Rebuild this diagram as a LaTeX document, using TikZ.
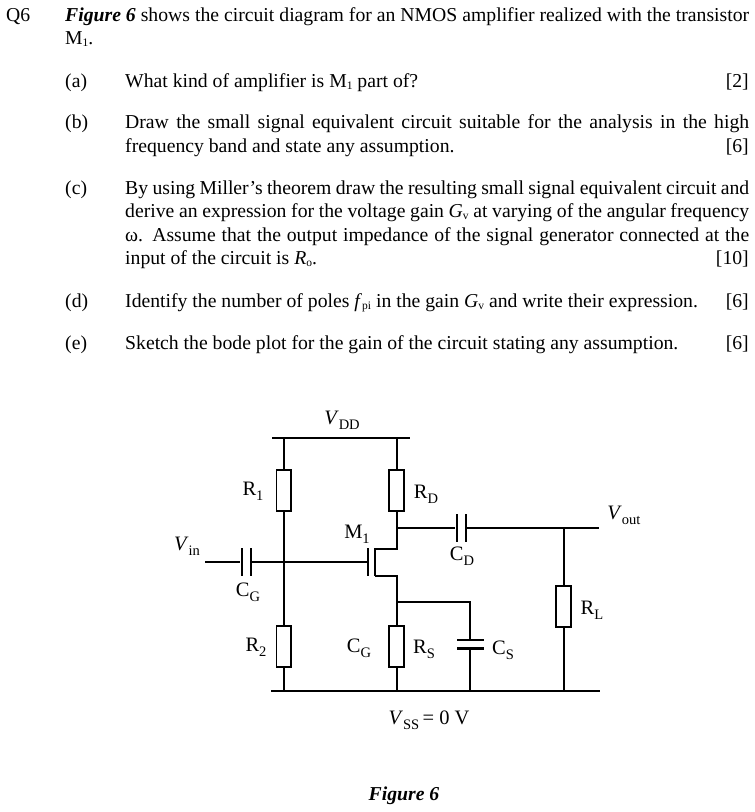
\documentclass[tikz,border=0pt]{standalone}
\usepackage{fontspec}
\setmainfont{Liberation Serif}
\usetikzlibrary{positioning}
\newcommand{\lowsub}[1]{\raisebox{-0.55ex}{\fontsize{14.5}{14.5}\selectfont #1}}
\newcommand{\tinysub}[1]{\raisebox{-0.25ex}{\fontsize{11.5}{11.5}\selectfont #1}}
\newcommand{\fullline}[1]{\makebox[624pt][s]{#1}}
\tikzset{
  textline/.style={anchor=base west,inner sep=0pt,font=\fontsize{19.7}{22}\selectfont},
  score/.style={anchor=base east,inner sep=0pt,font=\fontsize{19.7}{22}\selectfont},
  lab/.style={inner sep=0pt,font=\fontsize{20.5}{24}\selectfont},
  res/.style={draw,line width=1.8pt,fill=white,rectangle,minimum width=14.5pt,minimum height=41pt,inner sep=0pt},
  vplate/.style={fill=black,rectangle,minimum width=2.4pt,minimum height=28pt,inner sep=0pt},
  hplate/.style={fill=black,rectangle,minimum width=27pt,minimum height=2.4pt,inner sep=0pt},
  wire/.style={line width=2pt}
}
\begin{document}
\begin{tikzpicture}[x=1pt,y=-1pt]
\useasboundingbox (0,0) rectangle (755,812);

\node[textline] (q6) at (6,21) {Q6};
\node[textline] (t1) at (65,21) {\makebox[684pt][s]{\textbf{\textit{Figure 6}} shows the circuit diagram for an NMOS amplifier realized with the transistor}};
\node[textline] (t2) at (65,44) {M\tinysub{1}.};
\node[textline] (la) at (65,87) {(a)};
\node[textline] (ta) at (125,87) {What kind of amplifier is M\tinysub{1} part of?};
\node[score] (ma) at (749,87) {[2]};
\node[textline] (lb) at (65,128) {(b)};
\node[textline] (tb1) at (125,128) {\fullline{Draw the small signal equivalent circuit suitable for the analysis in the high}};
\node[textline] (tb2) at (125,152) {frequency band and state any assumption.};
\node[score] (mb) at (749,152) {[6]};
\node[textline] (lc) at (65,194) {(c)};
\node[textline] (tc1) at (125,194) {\fullline{By using Miller’s theorem draw the resulting small signal equivalent circuit and}};
\node[textline] (tc2) at (125,217) {\fullline{derive an expression for the voltage gain \textit{G}\tinysub{v} at varying of the angular frequency}};
\node[textline] (tc3) at (125,241) {\fullline{ω. Assume that the output impedance of the signal generator connected at the}};
\node[textline] (tc4) at (125,264) {input of the circuit is \textit{R}\tinysub{o}.};
\node[score] (mc) at (749,264) {[10]};
\node[textline] (ld) at (65,307) {(d)};
\node[textline] (td) at (125,307) {Identify the number of poles \textit{f}\tinysub{pi} in the gain \textit{G}\tinysub{v} and write their expression.};
\node[score] (md) at (749,307) {[6]};
\node[textline] (le) at (65,349) {(e)};
\node[textline] (te) at (125,349) {Sketch the bode plot for the gain of the circuit stating any assumption.};
\node[score] (me) at (749,349) {[6]};

\coordinate (topl) at (272,437.7);
\coordinate (topr) at (410,437.7);
\coordinate (botl) at (271,690.5);
\coordinate (botr) at (600,690.5);
\coordinate (top1) at (283.7,437.7);
\coordinate (top2) at (396.5,437.7);
\coordinate (bot1) at (283.7,690.5);
\coordinate (bot2) at (396.5,690.5);
\coordinate (bot3) at (470,690.5);
\coordinate (bot4) at (563.5,690.5);
\coordinate (in) at (205,561.7);
\coordinate (dnode) at (396.5,527.7);
\coordinate (onode) at (563.5,527.7);
\coordinate (out) at (599,527.7);
\coordinate (dch) at (375,549);
\coordinate (sch) at (375,575.7);
\coordinate (snode) at (396.5,601.7);
\coordinate (capt) at (470,640);
\coordinate (capb) at (470,648.3);

\node[res] (R1) at (283.7,490.5) {};
\node[res] (R2) at (283.7,646.5) {};
\node[res] (RD) at (396.5,490.5) {};
\node[res] (RS) at (396.5,646.5) {};
\node[res] (RL) at (563.5,606.5) {};
\node[vplate] (CGa) at (241.7,561.7) {};
\node[vplate] (CGb) at (250.7,561.7) {};
\node[vplate] (CDa) at (456.7,527.7) {};
\node[vplate] (CDb) at (466,527.7) {};
\node[hplate] (CSa) at (capt) {};
\node[hplate] (CSb) at (capb) {};
\node[vplate] (gate) at (368,561.7) {};
\node[vplate] (chan) at (375,562.3) {};

\path[wire]
  (topl) edge (topr)
  (botl) edge (botr)
  (top1) edge (R1)
  (R1) edge (R2)
  (R2) edge (bot1)
  (top2) edge (RD)
  (RD) edge (dnode)
  (RS) edge (bot2)
  (in) edge (CGa)
  (CGb) edge (gate)
  (dnode) edge (CDa)
  (CDb) edge (out)
  (onode) edge (RL)
  (RL) edge (bot4)
  (CSb) edge (bot3)
  ;
\draw[wire] (dnode) |- (dch);
\draw[wire] (sch) -| (RS);
\draw[wire] (snode) -| (CSa);

\node[lab] (vdd) at (342,420) {\textit{V}\lowsub{DD}};
\node[lab] (r1) at (253,491) {R\lowsub{1}};
\node[lab] (rd) at (426,494) {R\lowsub{D}};
\node[lab] (m1) at (357,534) {M\lowsub{1}};
\node[lab] (vin) at (187,546) {\textit{V}\lowsub{in}};
\node[lab] (cg1) at (248,592) {C\lowsub{G}};
\node[lab] (cd) at (462,556) {C\lowsub{D}};
\node[lab] (vout) at (624,515) {\textit{V}\lowsub{out}};
\node[lab] (rl) at (592,610) {R\lowsub{L}};
\node[lab] (r2) at (256,647) {R\lowsub{2}};
\node[lab] (cg2) at (359,648) {C\lowsub{G}};
\node[lab] (rs) at (424,649) {R\lowsub{S}};
\node[lab] (cs) at (503,650) {C\lowsub{S}};
\node[lab] (vss) at (429,720) {\textit{V}\lowsub{SS}\,= 0 V};
\node[lab,font=\fontsize{19.7}{22}\selectfont\bfseries\itshape] (fig) at (404,796) {Figure 6};
\end{tikzpicture}
\end{document}
